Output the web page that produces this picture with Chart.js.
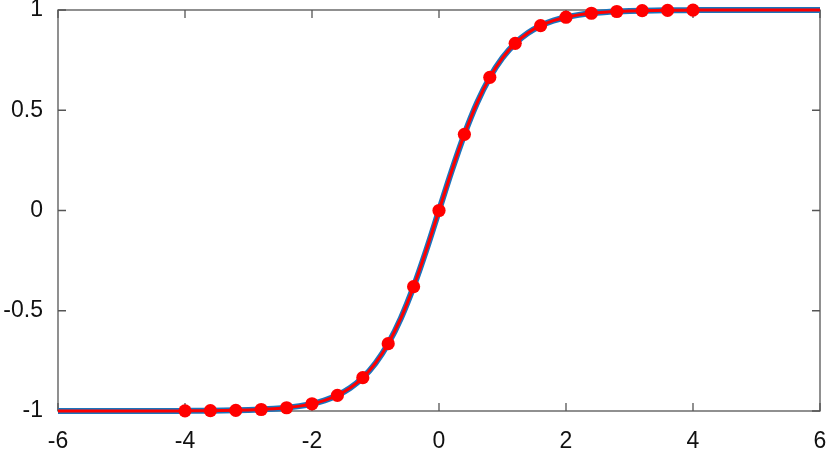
<!DOCTYPE html>
<html>
<head>
<meta charset="utf-8">
<script src="https://cdn.jsdelivr.net/npm/chart.js@4/dist/chart.umd.min.js"></script>
<style>
html,body{margin:0;padding:0;background:#fff;}
#wrap{width:830px;height:452px;position:relative;}
</style>
</head>
<body>
<div id="wrap"><canvas id="c" width="830" height="452"></canvas></div>
<script>
// Curve samples (x from -6 to 6, step 0.2)
const curveX = [-6.0,-5.8,-5.6,-5.4,-5.2,-5.0,-4.8,-4.6,-4.4,-4.2,-4.0,-3.8,-3.6,-3.4,-3.2,-3.0,-2.8,-2.6,-2.4,-2.2,-2.0,-1.8,-1.6,-1.4,-1.2,-1.0,-0.8,-0.6,-0.4,-0.2,0.0,
  0.2,0.4,0.6,0.8,1.0,1.2,1.4,1.6,1.8,2.0,2.2,2.4,2.6,2.8,3.0,3.2,3.4,3.6,3.8,4.0,4.2,4.4,4.6,4.8,5.0,5.2,5.4,5.6,5.8,6.0];
const curveY = [-1.0000,-1.0000,-1.0000,-1.0000,-0.9999,-0.9999,-0.9999,-0.9998,-0.9997,-0.9996,-0.9993,-0.9990,-0.9985,-0.9978,-0.9967,-0.9951,-0.9926,-0.9890,-0.9837,-0.9757,-0.9640,-0.9468,-0.9217,-0.8854,-0.8337,-0.7616,-0.6640,-0.5370,-0.3799,-0.1974,0.0000,
  0.1974,0.3799,0.5370,0.6640,0.7616,0.8337,0.8854,0.9217,0.9468,0.9640,0.9757,0.9837,0.9890,0.9926,0.9951,0.9967,0.9978,0.9985,0.9990,0.9993,0.9996,0.9997,0.9998,0.9999,0.9999,0.9999,1.0000,1.0000,1.0000,1.0000];
// Marked points (x from -4 to 4, step 0.4)
const pointX = [-4.0,-3.6,-3.2,-2.8,-2.4,-2.0,-1.6,-1.2,-0.8,-0.4,0.0,0.4,0.8,1.2,1.6,2.0,2.4,2.8,3.2,3.6,4.0];
const pointY = [-0.9993,-0.9985,-0.9967,-0.9926,-0.9837,-0.9640,-0.9217,-0.8337,-0.6640,-0.3799,0.0000,0.3799,0.6640,0.8337,0.9217,0.9640,0.9837,0.9926,0.9967,0.9985,0.9993];
const xTicks = [-6,-4,-2,0,2,4,6];
const yTicks = [-1,-0.5,0,0.5,1];

const toXY = (xs, ys) => xs.map((x, i) => ({x: x, y: ys[i]}));

const boxPlugin = {
  id: 'box',
  beforeDatasetsDraw(chart) {
    const {ctx, chartArea: a, scales} = chart;
    ctx.save();
    ctx.strokeStyle = '#555';
    ctx.lineWidth = 1.3;
    ctx.strokeRect(a.left, a.top, a.right - a.left, a.bottom - a.top);
    const L = 8;
    ctx.beginPath();
    xTicks.forEach(v => {
      const px = scales.x.getPixelForValue(v);
      ctx.moveTo(px, a.bottom); ctx.lineTo(px, a.bottom - L);
      ctx.moveTo(px, a.top); ctx.lineTo(px, a.top + L);
    });
    yTicks.forEach(v => {
      const py = scales.y.getPixelForValue(v);
      ctx.moveTo(a.left, py); ctx.lineTo(a.left + L, py);
      ctx.moveTo(a.right, py); ctx.lineTo(a.right - L, py);
    });
    ctx.stroke();
    ctx.restore();
  }
};

const tickFont = {family: 'Liberation Sans, Arial, sans-serif', size: 23};

new Chart(document.getElementById('c'), {
  type: 'scatter',
  data: {
    datasets: [
      {
        data: toXY(pointX, pointY),
        showLine: false,
        pointRadius: 6.6,
        pointBackgroundColor: '#ff0000',
        pointBorderWidth: 0,
        order: 0,
        clip: false
      },
      {
        data: toXY(curveX, curveY),
        showLine: true,
        borderColor: '#ff0000',
        borderWidth: 3,
        pointRadius: 0,
        cubicInterpolationMode: 'monotone',
        order: 1,
        clip: false
      },
      {
        data: toXY(curveX, curveY),
        showLine: true,
        borderColor: '#1a74bd',
        borderWidth: 6,
        pointRadius: 0,
        cubicInterpolationMode: 'monotone',
        order: 2,
        clip: false
      }
    ]
  },
  options: {
    responsive: false,
    animation: false,
    events: [],
    layout: {padding: {left: 0, right: 10, top: 10, bottom: 0}},
    plugins: {legend: {display: false}, tooltip: {enabled: false}},
    scales: {
      x: {
        type: 'linear', min: -6, max: 6,
        afterBuildTicks: s => { s.ticks = xTicks.map(v => ({value: v})); },
        afterFit: s => { s.height = 41; s.paddingLeft = 0; s.paddingRight = 0; },
        grid: {display: false, drawTicks: false},
        border: {display: false},
        ticks: {
          padding: 17,
          color: '#111',
          font: tickFont,
          callback: v => String(v),
          maxRotation: 0
        }
      },
      y: {
        type: 'linear', min: -1, max: 1,
        afterBuildTicks: s => { s.ticks = yTicks.map(v => ({value: v})); },
        afterFit: s => { s.width = 58; s.paddingTop = 0; s.paddingBottom = 0; },
        grid: {display: false, drawTicks: false},
        border: {display: false},
        ticks: {
          padding: 15,
          color: '#111',
          font: tickFont,
          callback: v => String(v)
        }
      }
    }
  },
  plugins: [boxPlugin]
});
</script>
</body>
</html>
